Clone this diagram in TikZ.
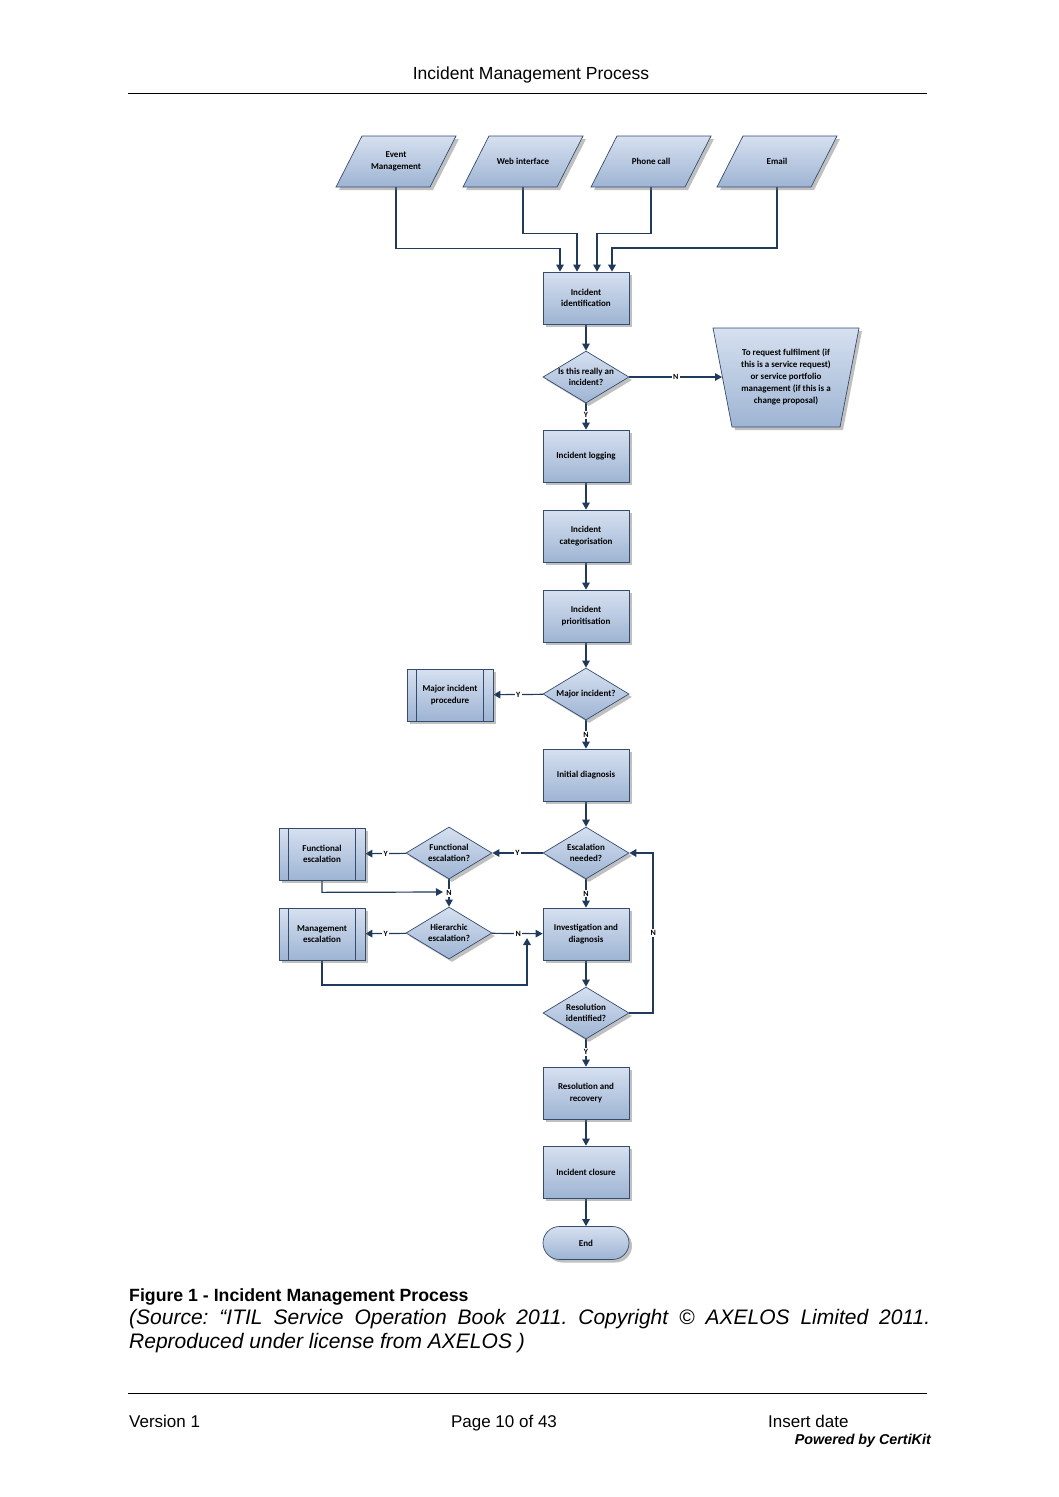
\documentclass[tikz,border=0pt]{standalone}
\usepackage{fontspec}
\setmainfont{Liberation Sans}
\newfontfamily\diafont{Carlito}
\usetikzlibrary{shapes.geometric,arrows.meta,shadows,backgrounds}
\definecolor{boxtop}{RGB}{214,224,240}
\definecolor{boxbot}{RGB}{158,180,211}
\definecolor{boxline}{RGB}{52,76,110}
\definecolor{conn}{RGB}{33,58,92}
\newcommand\paragon[1]{%
  \path[boxfill] (#1-34,136) -- (#1+60,136) -- (#1+34,187) -- (#1-60,187) -- cycle;}
\begin{document}
\begin{tikzpicture}[x=1pt,y=-1pt,
  shadowed/.style={drop shadow={shadow xshift=3pt,shadow yshift=-3pt,fill=black!55,opacity=0.45}},
  boxfill/.style={draw=boxline,line width=0.7pt,top color=boxtop,bottom color=boxbot,shadowed},
  dtext/.style={font=\diafont\bfseries\fontsize{9}{11.5}\selectfont,align=center,inner sep=0pt},
  base/.style={boxfill,dtext},
  proc/.style={base,rectangle,minimum width=86pt,minimum height=52pt},
  decision/.style={base,diamond,aspect=1.65,minimum width=86pt,minimum height=52pt},
  term/.style={base,rectangle,rounded corners=16.5pt,minimum width=86pt,minimum height=33pt},
  io/.style={dtext,rectangle,minimum width=60pt,minimum height=51pt},
  flow/.style={draw=conn,line width=1.2pt,-{Triangle[length=7pt,width=7.5pt]}},
  heavy/.style={line width=1.8pt},
  lbl/.style={fill=white,inner sep=1.3pt,font=\diafont\bfseries\fontsize{8}{9}\selectfont,text=black}
]
\useasboundingbox (0,0) rectangle (1058,1497);

% header
\node[font=\fontsize{17.5}{20}\selectfont,anchor=base,inner sep=0] (hdr) at (531,79) {Incident Management Process};
\draw[line width=0.8pt] (128,93) -- (927,93);

% sources
\paragon{396}\paragon{523}\paragon{651}\paragon{777}
\node[io] (ev) at (396,161.5) {Event\\Management};
\node[io] (web) at (523,161.5) {Web interface};
\node[io] (phone) at (651,161.5) {Phone call};
\node[io] (email) at (777,161.5) {Email};

% main column
\node[proc] (ident) at (586,298) {Incident\\identification};
\node[decision] (isinc) at (586,377) {Is this really an\\incident?};
\path[boxfill] (713,328) -- (859,328) -- (840,427) -- (732,427) -- cycle;
\node[font=\diafont\bfseries\fontsize{9}{11.8}\selectfont,align=center,inner sep=0] (req) at (786,377)
  {To request fulfilment (if\\this is a service request)\\or service portfolio\\management (if this is a\\change proposal)};
\coordinate (reqW) at (722,377);
\node[proc] (logging) at (586,456) {Incident logging};
\node[proc] (categ) at (586,536) {Incident\\categorisation};
\node[proc] (prior) at (586,616) {Incident\\prioritisation};
\node[decision] (major) at (586,694) {Major incident?};
\node[proc] (mip) at (450,695) {Major incident\\procedure};
\node[proc] (initdiag) at (586,775) {Initial diagnosis};
\node[decision] (esc) at (586,853) {Escalation\\needed?};
\node[decision] (funcq) at (449,853) {Functional\\escalation?};
\node[proc] (funcbox) at (322,854) {Functional\\escalation};
\node[decision] (hier) at (449,933) {Hierarchic\\escalation?};
\node[proc] (mgmt) at (322,934) {Management\\escalation};
\node[proc] (invest) at (586,934) {Investigation and\\diagnosis};
\node[decision] (resid) at (586,1013) {Resolution\\identified?};
\node[proc] (resrec) at (586,1093) {Resolution and\\recovery};
\node[proc] (closure) at (586,1172) {Incident closure};
\node[term] (endn) at (586,1243) {End};
\coordinate (fjoin) at (443,892);
\coordinate (mjoin) at (527,938);

\foreach \n in {mip,funcbox,mgmt}{
  \draw[draw=boxline,line width=0.7pt] ([xshift=10pt]\n.north west) -- ([xshift=10pt]\n.south west)
    ([xshift=-10pt]\n.north east) -- ([xshift=-10pt]\n.south east);
}

\begin{scope}[on background layer]
\draw[flow] (ev.south) -- ++(0,61.5) -| ([xshift=-26pt]ident.north);
\draw[flow] (web.south) -- ++(0,46.5) -| ([xshift=-9pt]ident.north);
\draw[flow] (phone.south) -- ++(0,46.5) -| ([xshift=11pt]ident.north);
\draw[flow,heavy] (email.south) -- ++(0,60.5) -| ([xshift=26pt]ident.north);
\draw[flow] (ident) -- (isinc);
\draw[flow] (isinc) -- node[lbl]{N} (reqW);
\draw[flow] (isinc) -- node[lbl,pos=0.45]{Y} (logging);
\draw[flow] (logging) -- (categ);
\draw[flow] (categ) -- (prior);
\draw[flow] (prior) -- (major);
\draw[flow] (major) -- node[lbl]{Y} (mip);
\draw[flow] (major) -- node[lbl]{N} (initdiag);
\draw[flow] (initdiag) -- (esc);
\draw[flow] (esc) -- node[lbl]{Y} (funcq);
\draw[flow] (funcq) -- node[lbl]{Y} (funcbox);
\draw[flow] (esc) -- node[lbl]{N} (invest);
\draw[flow] (funcq) -- node[lbl]{N} (hier);
\draw[flow] (funcbox.south) -- ++(0,12) -- (fjoin);
\draw[flow] (hier) -- node[lbl]{Y} (mgmt);
\draw[flow] (hier) -- node[lbl,pos=0.52]{N} (invest);
\draw[flow,heavy] (mgmt.south) -- ++(0,25) -| (mjoin);
\draw[flow] (invest) -- (resid);
\draw[flow,heavy] (resid.east) -- ++(24,0) |- node[lbl,pos=0.25]{N} (esc.east);
\draw[flow] (resid) -- node[lbl,pos=0.45]{Y} (resrec);
\draw[flow] (resrec) -- (closure);
\draw[flow] (closure) -- (endn);
\end{scope}

% caption
\node[anchor=base west,inner sep=0,font=\bfseries\fontsize{17.7}{20}\selectfont] (cap1) at (129,1301) {Figure 1 - Incident Management Process};
\node[anchor=base west,inner sep=0,font=\itshape\fontsize{21}{24}\selectfont] (cap2) at (129,1324)
  {\frenchspacing\makebox[801pt][s]{(Source: “ITIL Service Operation Book 2011. Copyright © AXELOS Limited 2011.}};
\node[anchor=base west,inner sep=0,font=\itshape\fontsize{21}{24}\selectfont] (cap3) at (129,1348) {Reproduced under license from AXELOS )};

% footer
\draw[line width=0.8pt] (128,1393) -- (927,1393);
\node[anchor=base west,inner sep=0,font=\fontsize{17}{20}\selectfont] (ver) at (129,1427) {Version 1};
\node[anchor=base,inner sep=0,font=\fontsize{17}{20}\selectfont] (page) at (504,1427) {Page 10 of 43};
\node[anchor=base west,inner sep=0,font=\fontsize{17}{20}\selectfont] (date) at (768,1427) {Insert date};
\node[anchor=base east,inner sep=0,font=\bfseries\itshape\fontsize{14.3}{16}\selectfont] (pow) at (931,1444) {Powered by CertiKit};
\end{tikzpicture}
\end{document}
